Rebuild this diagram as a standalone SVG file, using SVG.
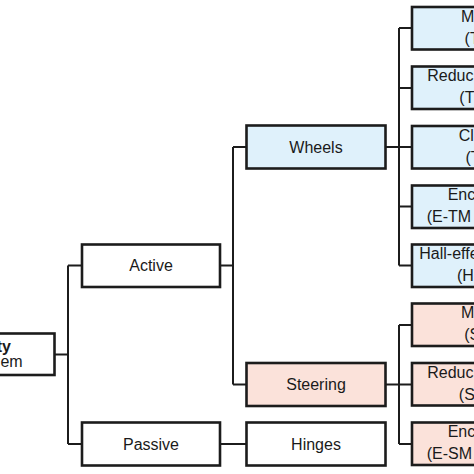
<svg xmlns="http://www.w3.org/2000/svg" width="474" height="474" viewBox="0 0 474 474">
<style>
.box{stroke:#1c1c1c;stroke-width:2.6;}
.w{fill:#ffffff;}
.b{fill:#dff1fb;}
.p{fill:#fbe2da;}
.t{font-family:"Liberation Sans",Arial,sans-serif;font-size:16px;fill:#1a1a1a;}
.c{text-anchor:middle;}
.conn{fill:none;stroke:#1c1c1c;stroke-width:2;}
</style>
<rect width="474" height="474" fill="#ffffff"/>
<g id="connectors" class="conn">
<path d="M54.5 354.5H68M68 265.5V444M68 265.5H82M68 444H82"/>
<path d="M220 265.5H233M233 147V384.5M233 147H246.5M233 384.5H246.5"/>
<path d="M220 444H246.5"/>
<path d="M385.5 147H399M399 28V265.5M399 28H412M399 88H412M399 147H412M399 206.5H412M399 265.5H412"/>
<path d="M385.5 384.5H399M399 325V444M399 325H412M399 384.5H412M399 444H412"/>
</g>
<g id="mobility-system">
<rect class="box w" x="-60" y="333.5" width="114.5" height="41.5"/>
<text class="t" x="11" y="352" text-anchor="end" font-weight="bold">ty</text>
<text class="t" x="22.7" y="367" text-anchor="end">em</text>
</g>
<g id="active">
<rect class="box w" x="82" y="244.5" width="138" height="42.5"/>
<text class="t c" x="151" y="271">Active</text>
</g>
<g id="passive">
<rect class="box w" x="82" y="422.5" width="138" height="43"/>
<text class="t c" x="151" y="449.5">Passive</text>
</g>
<g id="wheels">
<rect class="box b" x="246.5" y="125.5" width="139" height="43"/>
<text class="t c" x="316" y="152.5">Wheels</text>
</g>
<g id="steering">
<rect class="box p" x="246.5" y="363" width="139" height="43"/>
<text class="t c" x="316" y="390">Steering</text>
</g>
<g id="hinges">
<rect class="box w" x="246.5" y="422.5" width="139" height="43"/>
<text class="t c" x="316" y="449.5">Hinges</text>
</g>
<g id="wheel-motor">
<rect class="box b" x="412" y="7" width="139" height="42.5"/>
<text class="t" x="461" y="21.5">M</text>
<text class="t" x="464.6" y="43.5">(T</text>
</g>
<g id="wheel-reduction">
<rect class="box b" x="412" y="66.5" width="139" height="42.5"/>
<text class="t" x="427.2" y="81">Reduc</text>
<text class="t" x="459.3" y="103">(T</text>
</g>
<g id="wheel-clutch">
<rect class="box b" x="412" y="126" width="139" height="42.5"/>
<text class="t" x="458.8" y="140.5">Cl</text>
<text class="t" x="465.5" y="162.5">(T</text>
</g>
<g id="wheel-encoder">
<rect class="box b" x="412" y="185.5" width="139" height="42.5"/>
<text class="t" x="447.7" y="200">Enc</text>
<text class="t" x="426.7" y="222">(E-TM</text>
</g>
<g id="wheel-hall">
<rect class="box b" x="412" y="244.5" width="139" height="42.5"/>
<text class="t" x="419.3" y="259">Hall-effe</text>
<text class="t" x="457" y="281">(H</text>
</g>
<g id="steer-motor">
<rect class="box p" x="412" y="303.5" width="139" height="42.5"/>
<text class="t" x="461" y="318">M</text>
<text class="t" x="464.2" y="340">(S</text>
</g>
<g id="steer-reduction">
<rect class="box p" x="412" y="363" width="139" height="42.5"/>
<text class="t" x="427.2" y="377.5">Reduc</text>
<text class="t" x="458.8" y="399.5">(S</text>
</g>
<g id="steer-encoder">
<rect class="box p" x="412" y="422.5" width="139" height="42.5"/>
<text class="t" x="447.7" y="437">Enc</text>
<text class="t" x="426.7" y="459">(E-SM</text>
</g>
</svg>
